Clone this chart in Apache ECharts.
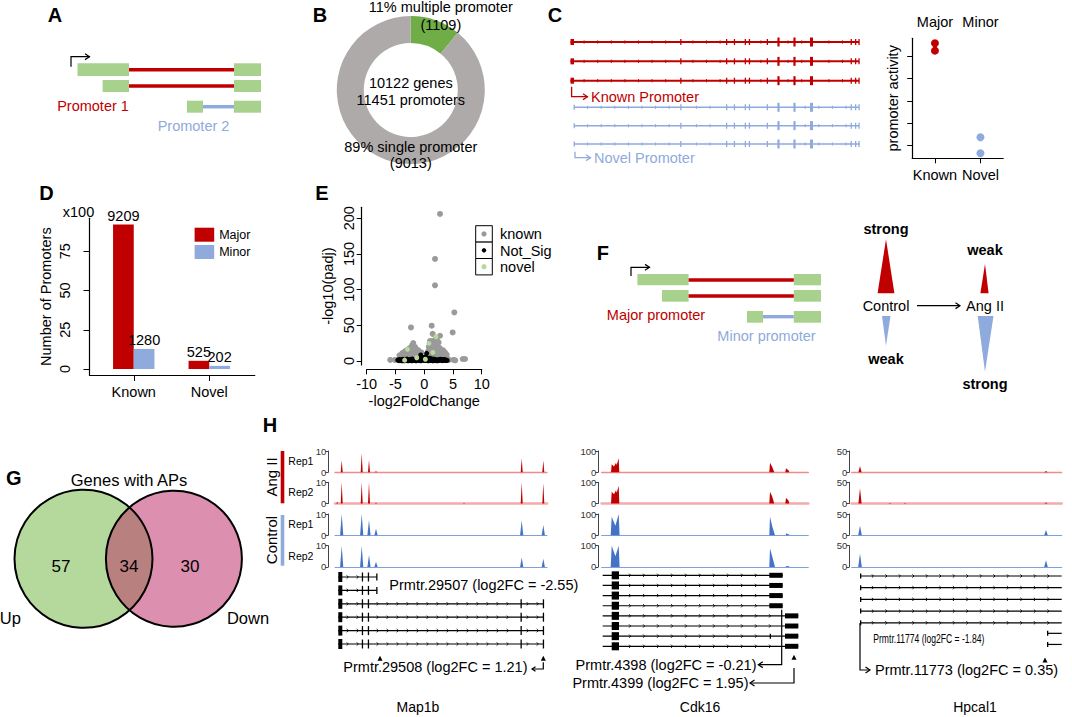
<!DOCTYPE html>
<html><head><meta charset="utf-8">
<script src="https://cdn.jsdelivr.net/npm/echarts@6/dist/echarts.min.js"></script>
<style>html,body{margin:0;padding:0;background:#fff}#c{width:1072px;height:717px}</style>
</head><body><div id="c"></div>
<script>
// ---------------- DATA ----------------
// B: promoters per gene
const pieNames = ['multiple promoter', 'single promoter'];
const pieValues = [1109, 9013];
const totalPromoters = 11451;
// C: promoter activity
const activityCats = ['Known', 'Novel'];
const promoterTypes = ['Major', 'Minor'];
const majorActivity = [5.57, 5.24];
const minorActivity = [1.375, 0.66];
const activityTicks = [1, 2, 3, 4, 5];
// D: number of promoters
const barCats = ['Known', 'Novel'];
const majorCounts = [9209, 525];
const minorCounts = [1280, 202];
const dTicks = [0, 25, 50, 75];
// E: volcano
const knownPts = [
 [2.75,206],[1.88,143],[1.88,106],[5.24,68],[4.95,40],[-2.3,47],[1.3,49.5],[1.47,38],[2.75,35.4],[2.2,30],[1.0,28],
 [-5.9,1.5],[-5.1,1.5],[5.1,1.5],[5.4,1.0],[6.7,2.8],[7.1,2.8],
 [-4.5,2],[-4.3,8],[-4.0,4],[-3.8,11],[-3.6,2],[-3.5,6],[-3.3,14],[-3.1,9],[-3.0,3],[-2.9,16],[-2.8,12],[-2.6,7],[-2.5,18],
 [-2.3,4],[-2.2,10],[-2.1,22],[-2.0,14],[-1.9,25],[-1.9,6],[-1.7,9],[-1.6,20],[-1.5,3],[-1.4,12],[-1.3,16],[-1.2,7],[-1.0,15],
 [-0.9,4],[-0.7,9],[-0.5,12],
 [0.3,3],[0.5,6],[0.7,14],[0.8,20],[0.9,2],[1.0,9],[1.1,24],[1.2,4],[1.3,16],[1.4,28],[1.5,11],[1.6,7],[1.6,27],[1.7,19],
 [1.8,25],[1.9,13],[2.0,5],[2.0,31],[2.1,17],[2.2,9],[2.3,22],[2.4,14],[2.5,6],[2.5,26],[2.6,11],[2.7,18],[2.8,3],[2.9,8],
 [3.0,13],[3.1,5],[3.2,10],[3.3,15],[3.4,2],[3.5,7],[3.6,12],[3.8,4],[3.9,9],[4.1,3],[4.3,1.5]
];
const notSigPts = [
 [-4.6,1.2],[-4.4,0.5],[-4.3,2.1],[-4.1,0.8],[-4.0,1.6],[-3.9,0.3],[-3.7,2.4],[-3.6,1.0],[-3.5,0.4],[-3.3,1.8],[-3.2,0.7],
 [-3.0,2.6],[-2.9,1.2],[-2.8,0.3],[-2.6,2.0],[-2.5,0.9],[-2.4,1.5],[-2.2,0.4],[-2.1,2.8],[-2.0,1.1],[-1.8,0.6],[-1.7,2.2],
 [-1.6,1.4],[-1.4,0.3],[-1.3,3.0],[-1.2,1.7],[-1.0,0.8],[-0.9,2.5],[-0.8,1.3],[-0.6,8.4],[-0.6,0.4],[-0.5,3.6],[-0.4,1.9],
 [-0.3,5.2],[-0.2,0.9],[-0.1,2.8],[0.0,1.5],[0.1,4.1],[0.2,0.6],[0.3,6.5],[0.4,2.2],[0.43,10.7],[0.5,1.0],[0.6,3.3],[0.7,0.4],
 [0.8,2.0],[0.9,1.2],[1.0,3.8],[1.1,0.7],[1.2,2.4],[1.4,1.1],[1.5,0.3],[1.6,2.9],[1.8,1.6],[1.9,0.5],[2.0,2.2],[2.2,1.0],
 [2.3,0.4],[2.5,1.8],[2.6,0.8],[2.8,2.5],[2.9,1.3],[3.1,0.5],[3.2,1.9],[3.4,0.9],[3.5,2.1],[3.7,0.6],[3.8,1.4],[4.0,0.8]
];
const novelPts = [[0.83,24.8],[-2.9,16.4],[2.05,34],[-1.3,4.5],[0.2,2.5],[1.5,12],[-3.4,1.2]];
const eTicks = [0, 50, 100, 150, 200];
const eLegend = ['known', 'Not_Sig', 'novel'];
// G: Venn counts (Up only, both, Down only)
const vennCounts = [57, 34, 30];
const vennSets = ['Up', 'Down'];
// H: coverage tracks (position along locus, signal)
const trackNames = ['Rep1', 'Rep2', 'Rep1', 'Rep2'];
const map1bPos = [2.3, 6.7, 26.7, 34, 41, 129, 186.7, 208.3];
const map1bAngRep1 = [0, 5.8, 8.9, 5.8, 0.6, 0, 6.6, 5.5];
const map1bAngRep2 = [0.8, 10, 10, 10, 0.5, 0.3, 10, 9.5];
const map1bCtlRep1 = [0, 10, 10, 7.2, 3.1, 0, 6.9, 4.8];
const map1bCtlRep2 = [0, 10, 10, 5.6, 2.4, 0, 4.4, 3.8];
const cdk16AngRep1 = [
 [[9.3,0],[10,37],[12.3,27],[14.3,45],[15,34],[17,66],[17.6,0]],
 [[167.6,0],[168.3,45],[170.3,27],[172.6,0]],
 [[183.6,0],[184.3,19],[186.9,8],[187.6,0]]];
const cdk16AngRep2 = [
 [[9.3,0],[10,55],[12.3,44],[14.3,63],[15,51],[17,84],[17.6,0]],
 [[167.6,0],[168.3,55],[170.3,35],[172.6,0]],
 [[183.6,0],[184.3,27],[186.9,13],[187.6,0]]];
const cdk16CtlRep1 = [
 [[9,0],[10,87],[13.7,44],[17,100],[17.9,0]],
 [[167.6,0],[168.3,87],[170.6,41],[173.3,0]],
 [[184,0],[184.6,9.4],[187.3,3],[188,0]]];
const cdk16CtlRep2 = [
 [[9,0],[10,100],[13.7,50],[17,100],[17.9,0]],
 [[167.6,0],[168.3,87],[170.6,48],[173.3,0]],
 [[184,0],[184.6,4.8],[187.3,3],[188,0]]];
const hpcal1Pos = [8.3, 38.3, 53.3, 194.3];
const hpcal1AngRep1 = [14.8, 0, 0, 3];
const hpcal1AngRep2 = [35.7, 1, 1, 2.4];
const hpcal1CtlRep1 = [22.7, 0, 0, 12.5];
const hpcal1CtlRep2 = [31.7, 0, 0, 15.9];
// H: transcript models [start,end] and exons [start,end,kind]
const map1bRows = [0, 1, 2, 3, 4, 5];
const map1bSpans = [[3.3,41.7],[3.3,41.7],[3.3,208.3],[3.3,208.3],[3.3,208.3],[3.3,208.3]];
const map1bShortExons = [[3.3,7.3,2],[26.8,27.8,1],[32.8,33.8,1],[41.2,42.2,0]];
const map1bLongExons = [[3.3,7.3,2],[26.8,27.8,1],[32.8,33.8,1],[185.5,186.5,1],[207.8,208.8,1]];
const map1bMarks = [[45, 6.07], [208.3, 6.07]];
const cdk16Rows = [0, 1, 2, 3, 4, 5, 6, 7];
const cdk16Spans = [[1,181],[1,181],[1,181],[1,181],[1,196.6],[1,196.6],[1,196.6],[1,196.6]];
const cdk16UpperExons = [[10,17.3,2],[167.6,181,1]];
const cdk16LowerExons = [[10,17.3,2],[183.3,196.6,1]];
const cdk16AltExons = [[10,17.3,2],[168,169,1],[183.3,196.6,1]];
const cdk16Marks = [[192.3, 8.09]];
const hpcal1Rows = [0, 1, 2, 3, 4, 4.9, 5.85];
const hpcal1Spans = [[8.3,210],[8.3,210],[8.3,210],[8.3,210],[8.3,210],[195.3,210],[195.3,210]];
const hpcal1LongExons = [[8.3,9.3,1]];
const hpcal1ShortExons = [[195.3,196.3,1]];
const hpcal1Marks = [[193.3, 7.18]];
// C: example gene models
const cRows = [0, 1, 2];
const cKnownSpan = [0.5, 289];
const cNovelSpan = [4, 289];
const cSharedExons = [[110.2,111.4,1],[156,157.2,1],[163.8,165,1],[174.7,175.9,1],[178.8,180,1],[196.7,197.9,1],
 [207.4,209.6,2],[223.4,225.6,2],[240,243,2],[280.6,281.8,1],[285,286.2,1],[288.4,289.6,1]];
const cKnownFirst = [0.5,4,1];
const cNovelFirst = [3.6,4.6,0];

// ---------------- STYLE / HELPERS ----------------
const FONT = 'Liberation Sans, Arial, Helvetica, sans-serif';
const RED = '#C00000', BLUE = '#8FAADC', DBLUE = '#4472C4', GREEN = '#A9D18E';
const grids = [], xAxis = [], yAxis = [], series = [], G = [];
const grid = g => (grids.push(g), grids.length - 1);
const xa = o => (xAxis.push(o), xAxis.length - 1);
const ya = o => (yAxis.push(o), yAxis.length - 1);
const hid = (gi, min, max, inv) => ({gridIndex: gi, type: 'value', min, max, inverse: !!inv, show: false, splitLine: {show: false}});
const axLine = {show: true, onZero: false, lineStyle: {color: '#000', width: 1.2}};
const nts = {fontSize: 14.5, color: '#000', fontFamily: FONT};

function T(text, x, y, o) {
  o = o || {};
  return {type: 'text', x, y, rotation: o.rot || 0, scaleX: o.sx || 1, z: 20,
    style: {text: String(text), fill: o.color || '#000', fontSize: o.size || 14.5, fontFamily: FONT,
      fontWeight: o.bold ? 'bold' : 'normal', textAlign: o.align || 'center', align: o.align || 'center',
      textVerticalAlign: 'middle', verticalAlign: 'middle'}};
}
const R = (x, y, w, h, fill) => ({type: 'rect', z: 5, shape: {x, y, width: w, height: h}, style: {fill}});
const L = (pts, color, w) => ({type: 'polyline', z: 6, shape: {points: pts}, style: {stroke: color || '#000', lineWidth: w || 1.2, fill: null}});
const P = (pts, fill) => ({type: 'polygon', z: 5, shape: {points: pts}, style: {fill}});
const headR = (x, y, c, s) => L([[x - (s||4.5), y - (s||4.5)*0.65], [x, y], [x - (s||4.5), y + (s||4.5)*0.65]], c, 1.2);
const headL = (x, y, c, s) => L([[x + (s||4.5), y - (s||4.5)*0.65], [x, y], [x + (s||4.5), y + (s||4.5)*0.65]], c, 1.2);

// ---------------- B: donut ----------------
series.push({type: 'pie', center: [410.8, 90], radius: [47, 74], startAngle: 90, clockwise: true, silent: true,
  label: {show: false}, labelLine: {show: false}, emphasis: {disabled: true},
  data: pieNames.map((n, i) => ({name: n, value: pieValues[i], itemStyle: {color: i === 0 ? '#70AD47' : '#AEAAAA'}}))});
const genes = pieValues[0] + pieValues[1];
const pct = pieValues.map(v => Math.round(v / genes * 100));
G.push(T('B', 320, 15, {bold: true, size: 20}));
G.push(T(pct[0] + '% ' + pieNames[0], 440.8, 6.7));
G.push(T('(' + pieValues[0] + ')', 440.8, 25));
G.push(T(genes + ' genes', 410.8, 82.7));
G.push(T(totalPromoters + ' promoters', 410.8, 100));
G.push(T(pct[1] + '% ' + pieNames[1], 410.8, 146.7));
G.push(T('(' + pieValues[1] + ')', 410.8, 163.3));

// ---------------- A: schematic ----------------
G.push(T('A', 55, 15, {bold: true, size: 20}));
G.push(L([[71, 66.7], [71, 56.7], [89.5, 56.7]]), headR(89.5, 56.7, '#000'));
G.push(R(77.5, 63.3, 51.5, 12.7, GREEN), L([[129, 69.7], [234, 69.7]], RED, 3.5), R(234, 63.3, 27, 12.7, GREEN));
G.push(R(102.6, 80, 26.4, 12, GREEN), L([[129, 86], [234, 86]], RED, 3.5), R(234, 80, 27, 12, GREEN));
G.push(R(187, 100.7, 16, 12, GREEN), L([[203, 106.7], [234, 106.7]], BLUE, 3.5), R(234, 100.7, 27, 12, GREEN));
G.push(T('Promoter 1', 93, 106, {color: RED}));
G.push(T('Promoter 2', 193.5, 126, {color: BLUE}));

// ---------------- gene model renderer ----------------
function geneSeries(xi, yi, rows, spans, exons, color, lineW, heights, gap, mark) {
  return {type: 'custom', xAxisIndex: xi, yAxisIndex: yi, silent: true,
    data: rows.map((r, i) => [spans[i][0], r]), encode: {x: 0, y: 1},
    renderItem: (params, api) => {
      const i = params.dataIndex, row = rows[i];
      const p0 = api.coord([spans[i][0], row]), p1 = api.coord([spans[i][1], row]);
      const y = p0[1];
      const ch = [{type: 'line', shape: {x1: p0[0], y1: y, x2: p1[0], y2: y}, style: {stroke: color, lineWidth: lineW}}];
      const ex = exons[i].map(q => [api.coord([q[0], row])[0], api.coord([q[1], row])[0], heights[q[2]]]);
      for (let x = p0[0] + gap; x < p1[0] - 3; x += gap) {
        if (ex.some(q => x > q[0] - 3 && x < q[1] + 3)) continue;
        if (mark === 'tick') ch.push({type: 'line', shape: {x1: x, y1: y - 1.6, x2: x, y2: y + 1.6}, style: {stroke: color, lineWidth: 1}});
        else ch.push({type: 'polyline', shape: {points: [[x - 1.6, y - 1.6], [x, y], [x - 1.6, y + 1.6]]}, style: {stroke: color, lineWidth: 0.9, fill: null}});
      }
      ex.forEach(q => ch.push({type: 'rect', shape: {x: q[0], y: y - q[2] / 2, width: Math.max(q[1] - q[0], 1.3), height: q[2]}, style: {fill: color}}));
      return {type: 'group', children: ch};
    }};
}

// ---------------- C ----------------
G.push(T('C', 555, 15, {bold: true, size: 20}));
{
  const gK = grid({left: 570, top: 42, width: 290, height: 38.7});
  const xK = xa(hid(gK, 0, 290)), yK = ya(hid(gK, 0, 2, true));
  series.push(geneSeries(xK, yK, cRows, cRows.map(() => cKnownSpan), cRows.map(() => [cKnownFirst].concat(cSharedExons)), RED, 2, [5, 6, 9], 13.6, 'tick'));
  const gN = grid({left: 570, top: 107.3, width: 290, height: 36.7});
  const xN = xa(hid(gN, 0, 290)), yN = ya(hid(gN, 0, 2, true));
  series.push(geneSeries(xN, yN, cRows, cRows.map(() => cNovelSpan), cRows.map(() => [cNovelFirst].concat(cSharedExons)), BLUE, 1.5, [5, 6, 9], 13.6, 'tick'));
}
G.push(L([[571.6, 86.7], [571.6, 96.7], [587.5, 96.7]], RED, 1.3), headR(587.5, 96.7, RED));
G.push(T('Known Promoter', 591, 96.7, {color: RED, align: 'left'}));
G.push(L([[575, 151.7], [575, 157.7], [590.5, 157.7]], BLUE, 1.3), headR(590.5, 157.7, BLUE));
G.push(T('Novel Promoter', 594, 157.7, {color: BLUE, align: 'left'}));
{
  const gC = grid({left: 912.2, top: 38.3, width: 91, height: 120});
  const xC = xa({gridIndex: gC, type: 'category', data: activityCats, axisLine: axLine,
    axisTick: {show: true, alignWithLabel: true, interval: 0, length: 5, lineStyle: {color: '#000'}},
    axisLabel: Object.assign({margin: 9, interval: 0, hideOverlap: false}, nts)});
  xa({gridIndex: gC, type: 'category', position: 'top', data: promoterTypes, axisLine: {show: false}, axisTick: {show: false},
    axisLabel: Object.assign({margin: 9, interval: 0, hideOverlap: false}, nts)});
  const yC = ya({gridIndex: gC, type: 'value', min: 0.4375, max: 5.79, axisLine: axLine,
    axisTick: {show: true, length: 5, customValues: activityTicks, lineStyle: {color: '#000'}}, axisLabel: {show: false},
    splitLine: {show: false}, name: 'promoter activity', nameLocation: 'middle', nameRotate: 90, nameGap: 12, nameTextStyle: nts});
  series.push({type: 'scatter', name: 'Major activity', xAxisIndex: xC, yAxisIndex: yC, data: majorActivity.map(v => [0, v]),
    symbolSize: 8, itemStyle: {color: RED, opacity: 1}});
  series.push({type: 'scatter', name: 'Minor activity', xAxisIndex: xC, yAxisIndex: yC, data: minorActivity.map(v => [1, v]),
    symbolSize: 8, itemStyle: {color: BLUE, opacity: 1}});
}

// ---------------- D ----------------
G.push(T('D', 46.5, 193.3, {bold: true, size: 20}));
G.push(T('x100', 78.5, 211.7));
{
  const gF = grid({left: 89.5, top: 218.3, width: 165.3, height: 156.7});
  xa({gridIndex: gF, type: 'value', min: 0, max: 1, axisLine: axLine, axisTick: {show: false}, axisLabel: {show: false}, splitLine: {show: false}});
  ya({gridIndex: gF, type: 'value', min: -3.8, max: 96, axisLine: axLine,
    axisTick: {show: true, length: 6, customValues: dTicks, lineStyle: {color: '#000'}},
    axisLabel: Object.assign({customValues: dTicks, rotate: 90, margin: 17}, nts), splitLine: {show: false},
    name: 'Number of Promoters', nameLocation: 'middle', nameGap: 36, nameTextStyle: nts});
  const gD = grid({left: 96, top: 218.3, width: 151, height: 156.7});
  const xD = xa({gridIndex: gD, type: 'category', data: barCats, axisLine: {show: false, onZero: false},
    axisTick: {show: true, alignWithLabel: true, interval: 0, length: 6, lineStyle: {color: '#000'}},
    axisLabel: Object.assign({margin: 9.5, interval: 0, hideOverlap: false}, nts)});
  const yD = ya(hid(gD, -3.8, 96));
  const lab = arr => ({show: true, position: 'top', distance: 1, fontSize: 14.5, color: '#000', fontFamily: FONT, formatter: p => arr[p.dataIndex]});
  series.push({type: 'bar', name: 'Major', xAxisIndex: xD, yAxisIndex: yD, data: majorCounts.map(v => v / 100),
    barWidth: 20.7, barGap: '0%', itemStyle: {color: RED}, label: lab(majorCounts)});
  series.push({type: 'bar', name: 'Minor', xAxisIndex: xD, yAxisIndex: yD, data: minorCounts.map(v => v / 100),
    barWidth: 20.7, barGap: '0%', itemStyle: {color: BLUE}, label: lab(minorCounts)});
}

// ---------------- E ----------------
G.push(T('E', 322, 193.3, {bold: true, size: 20}));
{
  const gE = grid({left: 366.7, top: 207.3, width: 115, height: 157.7});
  const xE = xa({gridIndex: gE, type: 'value', min: -10, max: 10, interval: 5, offset: 4.3, axisLine: axLine,
    axisTick: {show: true, length: 5, lineStyle: {color: '#000'}}, axisLabel: Object.assign({margin: 7}, nts), splitLine: {show: false},
    name: '-log2FoldChange', nameLocation: 'middle', nameGap: 24, nameTextStyle: nts});
  const yE = ya({gridIndex: gE, type: 'value', min: -5.6, max: 215.3, offset: 5, axisLine: axLine,
    axisTick: {show: true, length: 5, customValues: eTicks, lineStyle: {color: '#000'}},
    axisLabel: Object.assign({customValues: eTicks, rotate: 90, margin: 5}, nts), splitLine: {show: false},
    name: '-log10(padj)', nameLocation: 'middle', nameGap: 26, nameTextStyle: nts});
  const eCol = ['#9A9A9A', '#000000', '#B5D99C'];
  [knownPts, notSigPts, novelPts].forEach((d, i) => series.push({type: 'scatter', name: eLegend[i], xAxisIndex: xE, yAxisIndex: yE,
    data: d, symbolSize: i === 0 ? 6 : 5, itemStyle: {color: eCol[i], opacity: 1}, silent: true}));
  const ly = [225.7, 242.1, 258.5];
  eLegend.forEach((n, i) => {
    G.push({type: 'rect', z: 5, shape: {x: 475.7, y: ly[i], width: 16.6, height: 16.4}, style: {fill: '#fff', stroke: '#000', lineWidth: 1}});
    G.push({type: 'circle', z: 6, shape: {cx: 484, cy: ly[i] + 8.2, r: i === 1 ? 2.2 : 2.6}, style: {fill: eCol[i]}});
    G.push(T(n, 500, ly[i] + 8.4, {align: 'left'}));
  });
}

// ---------------- F ----------------
G.push(T('F', 602.8, 252.7, {bold: true, size: 20}));
G.push(L([[631, 276], [631, 267.3], [649.5, 267.3]]), headR(649.5, 267.3, '#000'));
G.push(R(637.4, 274, 51.2, 11.3, GREEN), L([[688.6, 280], [793.8, 280]], RED, 3.4), R(793.8, 274, 27.2, 11.3, GREEN));
G.push(R(662, 290, 26.6, 11.7, GREEN), L([[688.6, 296], [793.8, 296]], RED, 3.4), R(793.8, 290, 27.2, 11.7, GREEN));
G.push(R(747, 311, 16, 11.7, GREEN), L([[763, 316.7], [793.8, 316.7]], BLUE, 3.4), R(793.8, 311, 27.2, 11.7, GREEN));
G.push(T('Major promoter', 656, 315, {color: RED}));
G.push(T('Minor promoter', 766.5, 335.7, {color: BLUE}));
G.push(T('strong', 886, 229, {bold: true}), P([[886, 239.3], [877.6, 293.3], [894.4, 293.3]], RED));
G.push(T('Control', 886, 305.7));
G.push(P([[882, 316], [890.5, 316], [886, 345.7]], BLUE), T('weak', 886, 359, {bold: true}));
G.push(L([[917, 305.7], [960, 305.7]]), headR(960, 305.7, '#000'));
G.push(T('Ang II', 985, 305.7));
G.push(T('weak', 985, 250, {bold: true}), P([[985, 264], [980.4, 293.3], [988.6, 293.3]], RED));
G.push(P([[977.7, 316], [993.5, 316], [985, 371.7]], BLUE), T('strong', 985, 384.3, {bold: true}));

// ---------------- G: Venn ----------------
G.push(T('G', 13.8, 478.3, {bold: true, size: 20}));
G.push(T('Genes with APs', 129, 480, {size: 16.5}));
{
  const c1 = [83.5, 558.8, 69], c2 = [173.9, 558.8, 68];
  G.push({type: 'circle', z: 3, shape: {cx: c1[0], cy: c1[1], r: c1[2]}, style: {fill: '#B5D89C'}});
  G.push({type: 'circle', z: 3, shape: {cx: c2[0], cy: c2[1], r: c2[2]}, style: {fill: '#DC8FAE'}});
  const d = c2[0] - c1[0], a = (d * d + c1[2] * c1[2] - c2[2] * c2[2]) / (2 * d), h = Math.sqrt(c1[2] * c1[2] - a * a);
  const t1 = Math.atan2(h, a), t2 = Math.atan2(h, -(d - a));
  const lens = [];
  for (let k = 0; k <= 30; k++) { const t = -t1 + 2 * t1 * k / 30; lens.push([c1[0] + c1[2] * Math.cos(t), c1[1] + c1[2] * Math.sin(t)]); }
  for (let k = 0; k <= 30; k++) { const t = t2 + (2 * Math.PI - 2 * t2) * k / 30; lens.push([c2[0] + c2[2] * Math.cos(t), c2[1] - c2[2] * Math.sin(t)]); }
  G.push({type: 'polygon', z: 4, shape: {points: lens}, style: {fill: '#B98080'}});
  G.push({type: 'circle', z: 6, shape: {cx: c1[0], cy: c1[1], r: c1[2]}, style: {fill: null, stroke: '#000', lineWidth: 2}});
  G.push({type: 'circle', z: 6, shape: {cx: c2[0], cy: c2[1], r: c2[2]}, style: {fill: null, stroke: '#000', lineWidth: 2}});
  G.push(T(vennCounts[0], 61, 566.7, {size: 17}), T(vennCounts[1], 129, 566.7, {size: 17}), T(vennCounts[2], 190, 566.7, {size: 17}));
  G.push(T(vennSets[0], 10.3, 618.3, {size: 16.5}), T(vennSets[1], 248, 618.3, {size: 16.5}));
}

// ---------------- H: coverage tracks ----------------
G.push(T('H', 270, 425, {bold: true, size: 20}));
G.push(R(280.7, 451, 3.6, 52.3, RED), R(280.7, 515, 3.6, 50.7, BLUE));
G.push(T('Ang II', 271.7, 477, {size: 15, rot: Math.PI / 2}), T('Control', 271.7, 540, {size: 15, rot: Math.PI / 2}));
const trackTops = [451, 482.3, 514, 545.7];
trackNames.forEach((n, t) => G.push(T(n, 288.3, trackTops[t] + 9.8, {size: 10.5, align: 'left'})));
const fills = [RED, RED, DBLUE, DBLUE];
const baseCol = ['#F08C8C', '#F4ABAB', '#7FA0D8', '#7FA0D8'];
const baseW = [1.4, 2.6, 1.1, 1.1];
const loci = [
  {left: 335, width: 212, xmax: 212, ymax: 10, yoff: 6.7, pos: map1bPos, tracks: [map1bAngRep1, map1bAngRep2, map1bCtlRep1, map1bCtlRep2], hw: [1, 1, 1.6, 1.6]},
  {left: 601.7, width: 206.6, xmax: 206.6, ymax: 100, yoff: 3.4, profiles: [cdk16AngRep1, cdk16AngRep2, cdk16CtlRep1, cdk16CtlRep2]},
  {left: 851.7, width: 210, xmax: 210, ymax: 50, yoff: 2.4, pos: hpcal1Pos, tracks: [hpcal1AngRep1, hpcal1AngRep2, hpcal1CtlRep1, hpcal1CtlRep2], hw: [1.6, 1.6, 1.8, 1.8]}
];
loci.forEach(g => {
  for (let t = 0; t < 4; t++) {
    const gi = grid({left: g.left, top: trackTops[t], width: g.width, height: 21.2});
    const xi = xa({gridIndex: gi, type: 'value', min: 0, max: g.xmax, axisLine: {show: true, onZero: false, lineStyle: {color: baseCol[t], width: baseW[t]}},
      axisTick: {show: false}, axisLabel: {show: false}, splitLine: {show: false}});
    const yi = ya({gridIndex: gi, type: 'value', min: 0, max: g.ymax, offset: g.yoff, axisLine: {show: true, onZero: false, lineStyle: {color: '#444', width: 1}},
      axisTick: {show: true, length: 3, customValues: [0, g.ymax], lineStyle: {color: '#444'}},
      axisLabel: {customValues: [0, g.ymax], fontSize: 9.5, margin: 2, color: '#333', fontFamily: FONT, hideOverlap: false}, splitLine: {show: false}});
    if (g.pos) {
      const hw = g.hw[t], col = fills[t];
      series.push({type: 'custom', xAxisIndex: xi, yAxisIndex: yi, silent: true, z: 3,
        data: g.pos.map((p, i) => [p, g.tracks[t][i]]).filter(d => d[1] > 0), encode: {x: 0, y: 1},
        renderItem: (params, api) => {
          const top = api.coord([api.value(0), api.value(1)]), base = api.coord([api.value(0), 0]);
          return {type: 'polygon', shape: {points: [[base[0] - hw, base[1]], [top[0], top[1]], [base[0] + hw, base[1]]]}, style: {fill: col}};
        }});
    } else {
      const prof = g.profiles[t], col = fills[t];
      series.push({type: 'custom', xAxisIndex: xi, yAxisIndex: yi, silent: true, z: 3,
        data: prof.map(p => [p[0][0], Math.max.apply(null, p.map(q => q[1]))]), encode: {x: 0, y: 1},
        renderItem: (params, api) => ({type: 'polygon', shape: {points: prof[params.dataIndex].map(q => api.coord(q))}, style: {fill: col}})});
    }
  }
});

// ---------------- H: transcript models ----------------
function modelGrid(left, top, width, height, xmax, ymax) {
  const gi = grid({left, top, width, height});
  return [xa(hid(gi, 0, xmax)), ya(hid(gi, 0, ymax, true))];
}
function marks(ax, data) {
  return {type: 'scatter', xAxisIndex: ax[0], yAxisIndex: ax[1], data, symbol: 'triangle', symbolSize: [5, 5], clip: false, silent: true,
    itemStyle: {color: '#000', opacity: 1}};
}
{
  const a1 = modelGrid(335, 577, 212, 67, 212, 5);
  series.push(geneSeries(a1[0], a1[1], map1bRows, map1bSpans, map1bRows.map(r => r < 2 ? map1bShortExons : map1bLongExons), '#000', 1.2, [7, 9, 10], 10, 'chev'));
  series.push(marks(a1, map1bMarks));
  const a2 = modelGrid(601.7, 575.3, 206.6, 71, 206.6, 7);
  series.push(geneSeries(a2[0], a2[1], cdk16Rows, cdk16Spans, cdk16Rows.map(r => r < 4 ? cdk16UpperExons : (r === 6 ? cdk16AltExons : cdk16LowerExons)), '#000', 1.2, [4, 5, 8], 14, 'chev'));
  series.push(marks(a2, cdk16Marks));
  const a3 = modelGrid(851.7, 576, 210, 70.2, 210, 6);
  series.push(geneSeries(a3[0], a3[1], hpcal1Rows, hpcal1Spans, hpcal1Rows.map((r, i) => i < 5 ? hpcal1LongExons : hpcal1ShortExons), '#000', 1.2, [4, 5, 8], 13.5, 'chev'));
  series.push(marks(a3, hpcal1Marks));
}
// annotations
G.push(T('Prmtr.29507 (log2FC = -2.55)', 389.3, 585, {align: 'left'}));
G.push(T('Prmtr.29508 (log2FC = 1.21)', 343.3, 666.7, {align: 'left'}));
G.push(L([[543.3, 662.2], [543.3, 669], [532, 669]], '#000', 1.2), headL(532, 669, '#000', 3.5));
G.push(T('Map1b', 418, 706.7, {size: 14}));
G.push(L([[781.7, 609.7], [781.7, 664.7], [758.3, 664.7]], '#000', 1.2), headL(758.3, 664.7, '#000'));
G.push(T('Prmtr.4398 (log2FC = -0.21)', 756.5, 664.7, {align: 'right'}));
G.push(L([[794, 668], [794, 683], [750, 683]], '#000', 1.2), headL(750, 683, '#000'));
G.push(T('Prmtr.4399 (log2FC = 1.95)', 748.5, 683, {align: 'right'}));
G.push(T('Cdk16', 700, 706.7, {size: 14}));
G.push(T('Prmtr.11774 (log2FC = -1.84)', 873.3, 638.3, {align: 'left', size: 13, sx: 0.66}));
G.push(L([[860, 623], [860, 670], [870, 670]], '#000', 1.2), headR(870, 670, '#000'));
G.push(T('Prmtr.11773 (log2FC = 0.35)', 875, 670, {align: 'left'}));
G.push(T('Hpcal1', 975, 706.7, {size: 14}));

// ---------------- CHART ----------------
const chart = echarts.init(document.getElementById('c'), null, {renderer: 'svg', width: 1072, height: 717});
chart.setOption({
  backgroundColor: '#fff', animation: false, textStyle: {fontFamily: FONT},
  legend: {data: ['Major', 'Minor'], left: 194.6, top: 227.7, orient: 'vertical', itemWidth: 19.6, itemHeight: 14, itemGap: 3.3,
    icon: 'rect', padding: 0, selectedMode: false, textStyle: {fontSize: 12.5, color: '#000', fontFamily: FONT}},
  grid: grids, xAxis, yAxis, series,
  graphic: {elements: G}
});
</script></body></html>
